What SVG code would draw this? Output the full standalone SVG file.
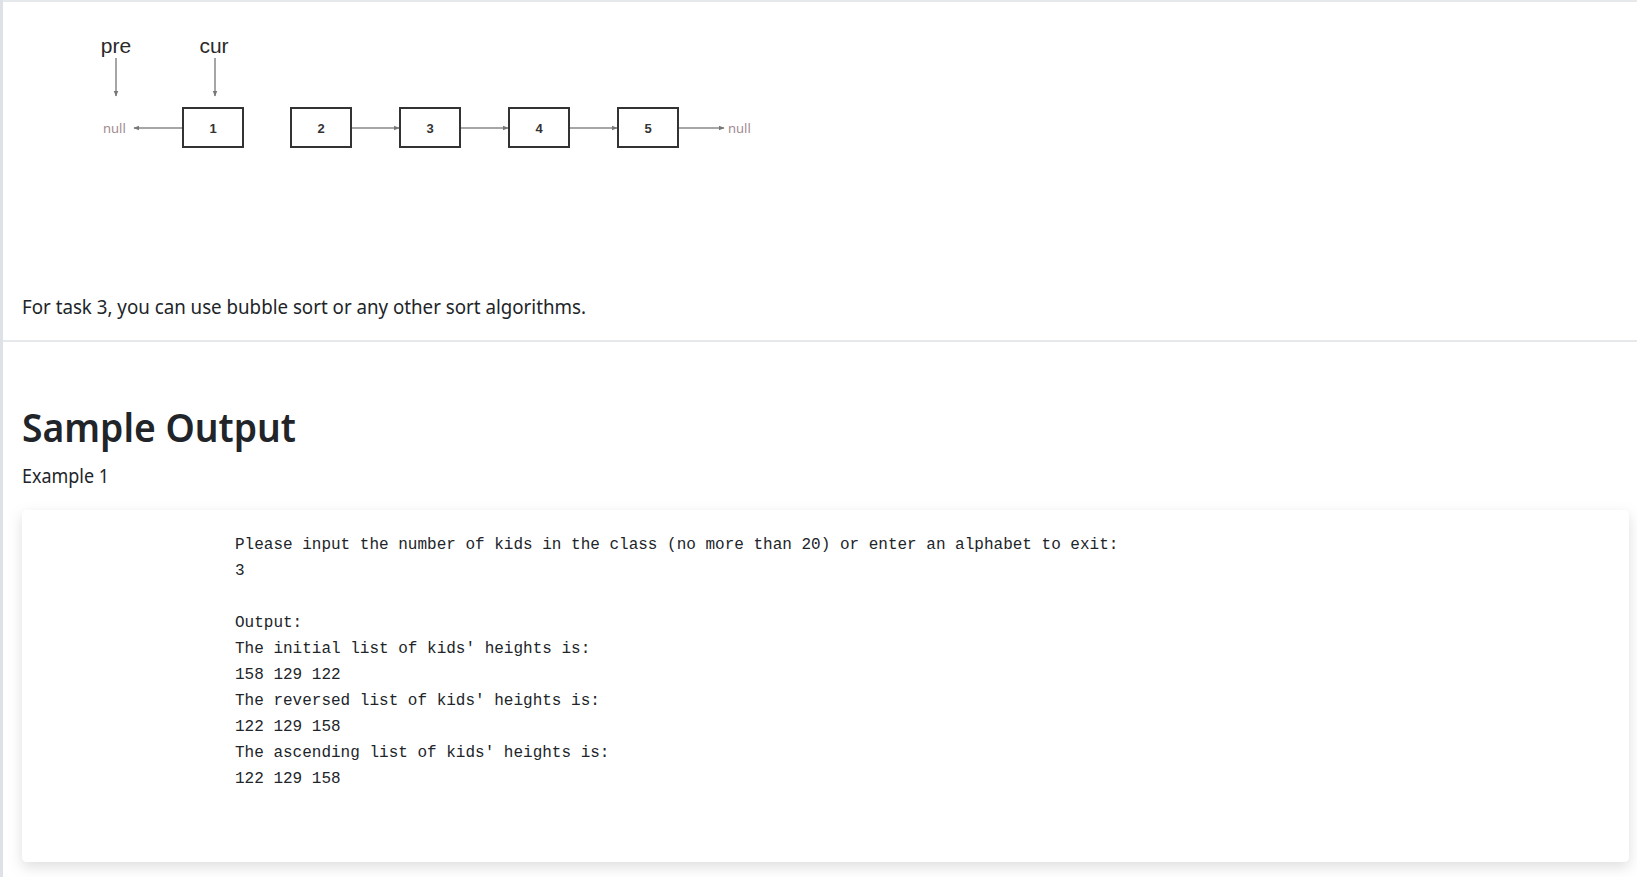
<svg xmlns="http://www.w3.org/2000/svg" width="1637" height="877" viewBox="0 0 1637 877">
<style>
.box{fill:#fff;stroke:#333;stroke-width:2}
.num{font-family:"Liberation Sans",Arial,sans-serif;font-size:13px;font-weight:bold;fill:#333;text-anchor:middle}
.ptr{font-family:"Liberation Sans",Arial,sans-serif;font-size:21px;fill:#2a2a2a;text-anchor:middle}
.null{font-family:"Noto Sans","DejaVu Sans",sans-serif;font-size:13px;fill:#a08a90}
.conn line{stroke:#888;stroke-width:1.5}
.body{font-family:"Noto Sans","Open Sans",sans-serif;fill:#212529}
.code{font-family:"Liberation Mono","DejaVu Sans Mono",monospace;font-size:16px;fill:#212529}
</style>
<defs>
<marker id="ah" viewBox="0 0 10 10" refX="9" refY="5" markerWidth="6" markerHeight="6" orient="auto" markerUnits="userSpaceOnUse">
<path d="M0,1 L10,5 L0,9 z" fill="#777"/>
</marker>
<filter id="sh" x="-5%" y="-10%" width="110%" height="125%">
<feDropShadow dx="0" dy="5" stdDeviation="7" flood-color="#000" flood-opacity="0.13"/>
</filter>
</defs>
<rect x="0" y="0" width="1637" height="877" fill="#fff"/>
<rect x="0" y="0" width="3" height="877" fill="#dee2e6"/>
<line x1="3" y1="1" x2="1637" y2="1" stroke="#dee2e6" stroke-width="1.5"/>

<g id="labels">
<text class="ptr" x="116" y="53">pre</text>
<text class="ptr" x="214" y="53">cur</text>
<text class="null" x="103" y="133">null</text>
<text class="null" x="728" y="133">null</text>
</g>

<g id="connectors" class="conn">
<line x1="116" y1="58" x2="116" y2="96" marker-end="url(#ah)"/>
<line x1="215" y1="58" x2="215" y2="96" marker-end="url(#ah)"/>
<line x1="182" y1="128" x2="134" y2="128" marker-end="url(#ah)"/>
<line x1="351" y1="128" x2="399" y2="128" marker-end="url(#ah)"/>
<line x1="460" y1="128" x2="508" y2="128" marker-end="url(#ah)"/>
<line x1="569" y1="128" x2="617" y2="128" marker-end="url(#ah)"/>
<line x1="678" y1="128" x2="724" y2="128" marker-end="url(#ah)"/>
</g>

<g id="node1"><rect class="box" x="183" y="108" width="60" height="39"/><text class="num" x="213" y="133">1</text></g>
<g id="node2"><rect class="box" x="291" y="108" width="60" height="39"/><text class="num" x="321" y="133">2</text></g>
<g id="node3"><rect class="box" x="400" y="108" width="60" height="39"/><text class="num" x="430" y="133">3</text></g>
<g id="node4"><rect class="box" x="509" y="108" width="60" height="39"/><text class="num" x="539" y="133">4</text></g>
<g id="node5"><rect class="box" x="618" y="108" width="60" height="39"/><text class="num" x="648" y="133">5</text></g>

<text class="body" x="22" y="314" font-size="19" textLength="564" lengthAdjust="spacingAndGlyphs">For task 3, you can use bubble sort or any other sort algorithms.</text>
<line x1="3" y1="341" x2="1637" y2="341" stroke="#dee2e6" stroke-width="1.5"/>

<text class="body" x="22" y="442" font-size="40" font-weight="600" textLength="274" lengthAdjust="spacingAndGlyphs">Sample Output</text>
<text class="body" x="22" y="483" font-size="19" textLength="87" lengthAdjust="spacingAndGlyphs">Example 1</text>

<rect x="22" y="510" width="1607" height="352" rx="5" fill="#fff" filter="url(#sh)"/>
<g class="code">
<text x="235" y="549">Please input the number of kids in the class (no more than 20) or enter an alphabet to exit:</text>
<text x="235" y="575">3</text>
<text x="235" y="627">Output:</text>
<text x="235" y="653">The initial list of kids' heights is:</text>
<text x="235" y="679">158 129 122</text>
<text x="235" y="705">The reversed list of kids' heights is:</text>
<text x="235" y="731">122 129 158</text>
<text x="235" y="757">The ascending list of kids' heights is:</text>
<text x="235" y="783">122 129 158</text>
</g>
</svg>
